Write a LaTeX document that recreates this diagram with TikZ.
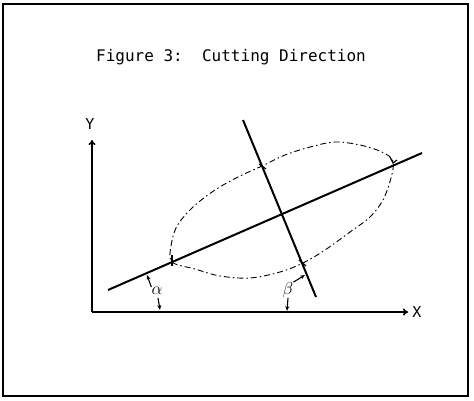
\documentclass[tikz,border=0pt]{standalone}
\usepackage{fontspec}
\newfontfamily\typefont{DejaVu Sans Mono}
\usetikzlibrary{arrows.meta}
\begin{document}
\begin{tikzpicture}[x=1pt,y=-1pt,
  frameline/.style={line width=2.6pt},
  axisline/.style={line width=1.6pt},
  mainline/.style={line width=2pt},
  outline/.style={line width=0.9pt, dash pattern=on 6pt off 3pt on 1.5pt off 3pt},
  pointer/.style={line width=1.1pt, -{Stealth[length=5pt,width=4pt]}},
  lbl/.style={inner sep=0pt, font=\typefont\fontsize{15}{17}\selectfont},
  glabel/.style={inner sep=0pt, font=\fontsize{17}{19}\selectfont}]
\useasboundingbox (0,0) rectangle (474,400);
% frame
\draw[frameline] (3,4) rectangle (468,396);
% title
\node[inner sep=0pt, font=\typefont\fontsize{16}{19}\selectfont] (title) at (231,57) {Figure 3:\ \ Cutting Direction};
% axes
\coordinate (O) at (92,312);
\coordinate (Ytop) at (92,140);
\coordinate (Xend) at (408,312);
\draw[axisline, -{To[length=5pt,width=7pt]}] (O) -- (Ytop);
\draw[axisline, -{To[length=5pt,width=7pt]}] (O) -- (Xend);
\node[lbl] (ylab) at (90,124) {Y};
\node[lbl] (xlab) at (417,312) {X};
% main (cutting) line and perpendicular
\coordinate (A) at (108,290);
\coordinate (B) at (422,153);
\coordinate (C) at (243,120);
\coordinate (D) at (316,297);
\draw[mainline] (A) -- (B);
\draw[mainline] (C) -- (D);
% outline of the part
\draw[outline] plot[smooth cycle, tension=0.55] coordinates {
  (172,262) (171,246) (177,226) (193,207) (215,190) (238,177) (262,166)
  (285,155) (310,147) (335,142) (360,145) (382,152) (393,161)
  (391,178) (383,200) (370,217) (350,232) (325,250) (303,263)
  (280,272) (250,278) (220,276) (195,269)};
% ticks at ends of the outline on the axis
\draw[line width=1.2pt] (172,255) -- (172,266);
\draw[line width=1.2pt] (390,157) -- (393,163) -- (397,160);
\draw[line width=1.2pt] (299,260) -- (306,266);
\draw[line width=1.2pt] (259,164) -- (266,169);
% alpha
\node[glabel] (alpha) at (157,291) {$\alpha$};
\coordinate (alphaT) at (147,275);
\coordinate (alphaB) at (160,310);
\draw[pointer] (alpha.north west) -- (alphaT);
\draw[pointer] (alpha.south) ++(1,3) -- (alphaB);
% beta
\node[glabel] (beta) at (288,290) {$\beta$};
\coordinate (betaT) at (305,275);
\coordinate (betaB) at (287,311);
\draw[pointer] (beta.north east) -- (betaT);
\draw[pointer] (beta.south) -- (betaB);
\end{tikzpicture}
\end{document}
